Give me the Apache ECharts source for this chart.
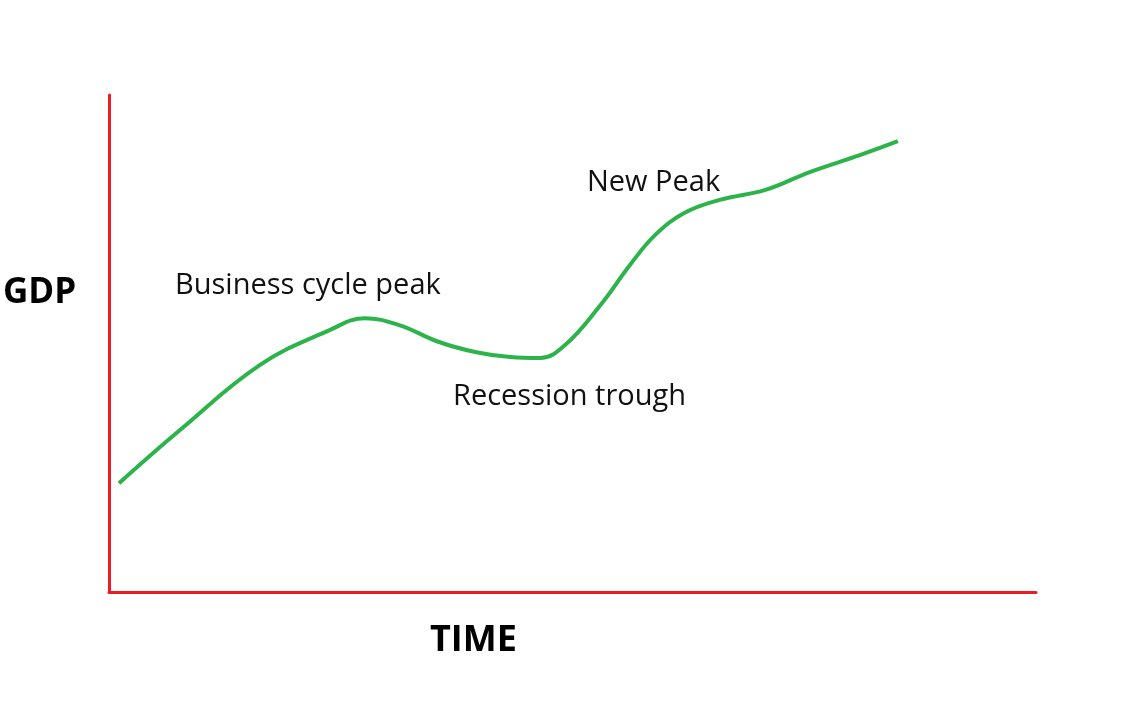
<!DOCTYPE html>
<html><head><meta charset="utf-8">
<script src="https://cdn.jsdelivr.net/npm/echarts@6/dist/echarts.min.js"></script>
<style>html,body{margin:0;padding:0;background:#fff}#c{width:1140px;height:719px}</style>
</head><body><div id="c"></div>
<script>
const timeVals = [1.08,7.66,16.3,23.8,27.6,31.3,35.6,39.5,43.3,46.5,49.2,53.0,56.2,58.9,62.1,65.9,70.8,75.6,81.0,85.1];
const gdpVals = [21.9,32.6,45.7,52.7,55.1,53.7,50.3,48.3,47.3,47.1,49.7,57.7,65.8,71.8,76.3,78.9,80.9,84.5,87.9,90.7];
const annotations = [
  {text:'Business cycle peak', x:175, y:286},
  {text:'Recession trough', x:453, y:397},
  {text:'New Peak', x:587, y:183}
];
const chart = echarts.init(document.getElementById('c'));
const ff = '"Open Sans", sans-serif';
chart.setOption({
  animation:false,
  grid:{left:109,right:104,top:95,bottom:127},
  xAxis:{type:'value',min:0,max:100,axisLine:{lineStyle:{color:'#ec1c24',width:3}},axisTick:{show:false},axisLabel:{show:false},splitLine:{show:false}},
  yAxis:{type:'value',min:0,max:100,axisLine:{show:true,lineStyle:{color:'#ec1c24',width:3}},axisTick:{show:false},axisLabel:{show:false},splitLine:{show:false}},
  series:[{type:'line',smooth:0.4,symbol:'none',data:timeVals.map((t,i)=>[t,gdpVals[i]]),lineStyle:{color:'#2cb34a',width:4}}],
  graphic:[
    {type:'text',x:3,y:293,style:{text:'GDP',font:'bold 35px '+ff,fill:'#000',verticalAlign:'middle'}},
    {type:'text',x:430,y:641,style:{text:'TIME',font:'bold 36px '+ff,fill:'#000',verticalAlign:'middle'}},
    ...annotations.map(a=>({type:'text',x:a.x,y:a.y,style:{text:a.text,font:'29px '+ff,fill:'#111',verticalAlign:'middle'}}))
  ]
});
</script></body></html>
